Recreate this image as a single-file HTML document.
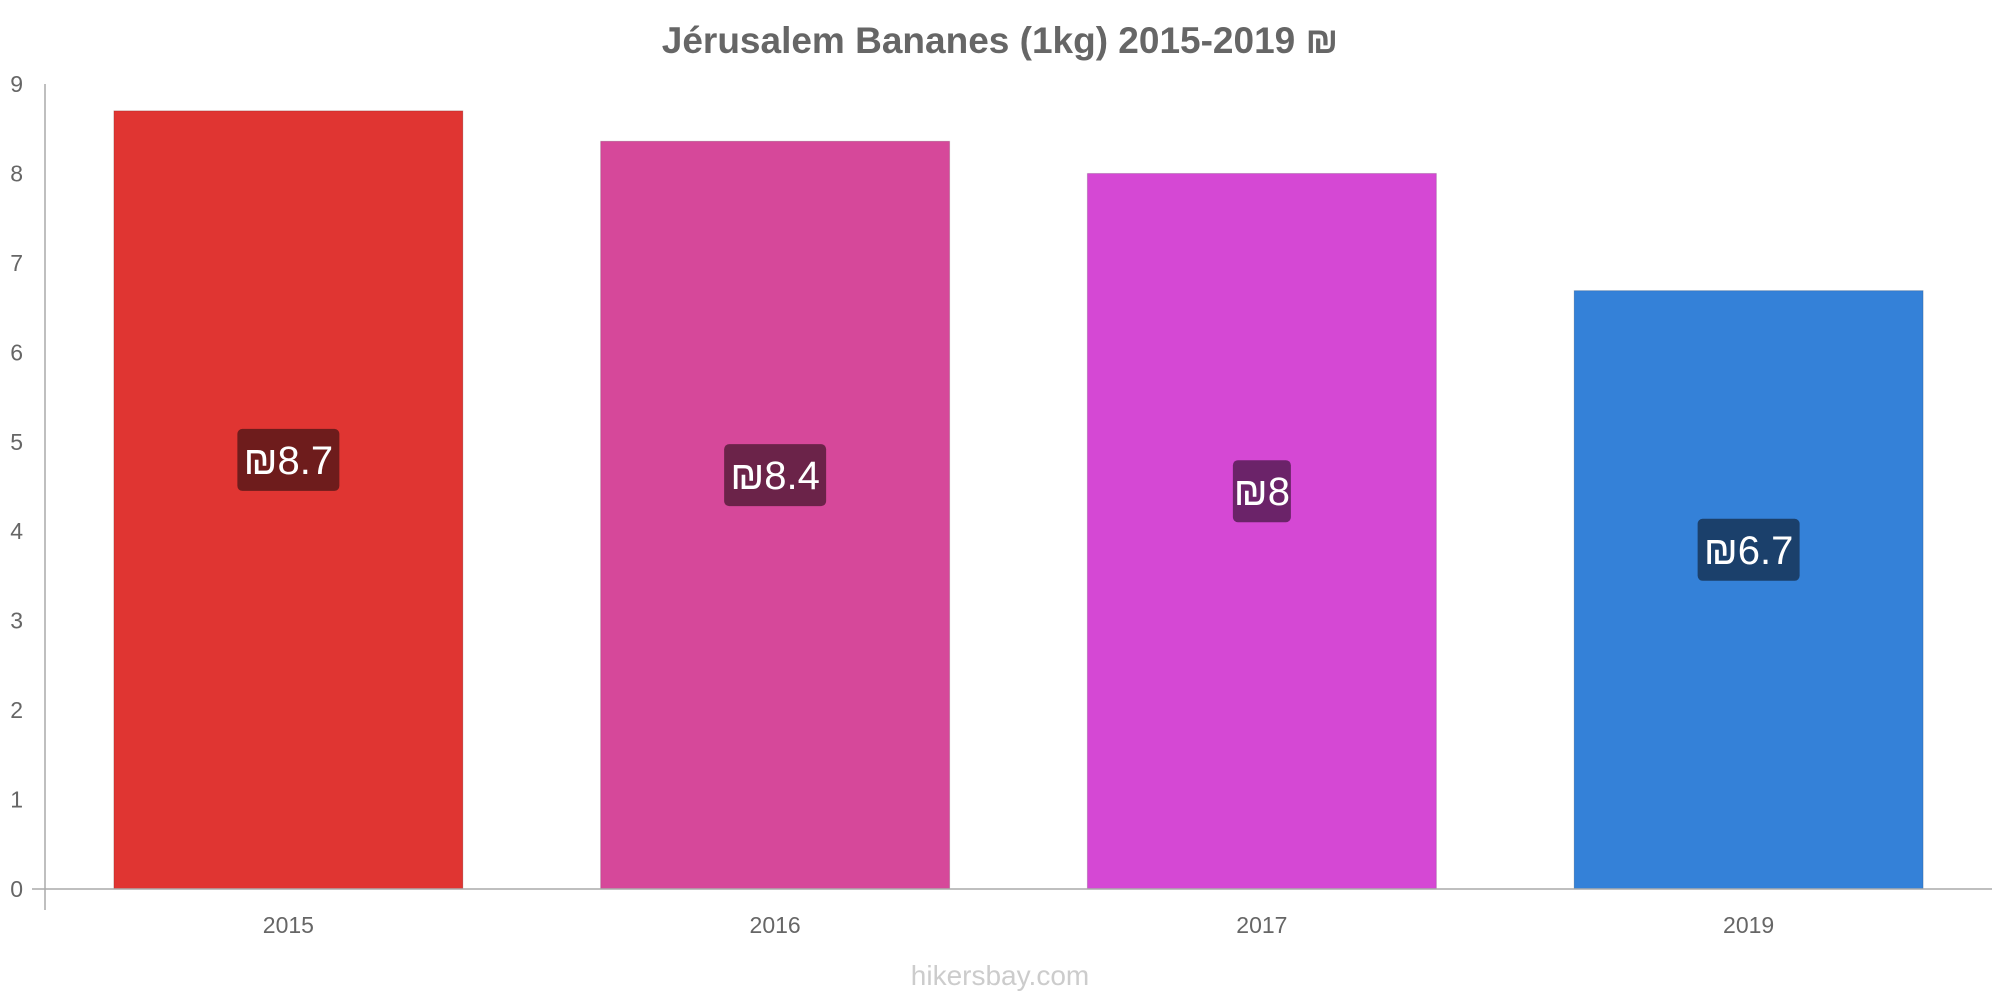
<!DOCTYPE html>
<html><head><meta charset="utf-8"><style>
body{margin:0;background:#fff;}
svg{display:block;font-family:"Liberation Sans",sans-serif;}
</style></head><body>
<svg id="chart" width="2000" height="1000">
<text x="1000" y="53" text-anchor="middle" font-size="37" font-weight="bold" fill="#666">Jérusalem Bananes (1kg) 2015-2019 ₪</text>
<g id="yaxis"></g>
<g id="bars"></g>
<g id="xaxis"></g>
<text x="1000" y="985" text-anchor="middle" font-size="28" fill="#ccc">hikersbay.com</text>
</svg>
<script>
const categories = ["2015","2016","2017","2019"];
const values = [8.7, 8.36, 8.0, 6.69];
const valueLabels = ["₪8.7","₪8.4","₪8","₪6.7"];
const yTicks = [0,1,2,3,4,5,6,7,8,9];
const colors = ["#e03532","#d6489a","#d548d4","#3481d8"];
const labelBg = ["#6e1c1c","#6b2349","#6b2369","#1b406b"];

const NS="http://www.w3.org/2000/svg";
const x0=45, x1=1992, y0=889, yTop=84, yMax=9;
const band=(x1-x0)/categories.length, barW=band*0.717;
const y=v=>y0-(v/yMax)*(y0-yTop);
function mk(t,a,p){const e=document.createElementNS(NS,t);for(const k in a)e.setAttribute(k,a[k]);p.appendChild(e);return e;}
const ya=document.getElementById('yaxis'), xa=document.getElementById('xaxis'), bg=document.getElementById('bars');
mk('line',{x1:x0,y1:yTop,x2:x0,y2:910,stroke:'#aaa','stroke-width':1.5},ya);
mk('line',{x1:32,y1:y0,x2:x1,y2:y0,stroke:'#aaa','stroke-width':1.5},xa);
yTicks.forEach(t=>{
  const tx=mk('text',{x:23,y:y(t)+8,'text-anchor':'end','font-size':23,fill:'#666'},ya);
  
  
  tx.textContent=t;
});
categories.forEach((c,i)=>{
  const cx=x0+band*(i+0.5);
  const r=mk('rect',{x:cx-barW/2,y:y(values[i]),width:barW,height:y0-y(values[i]),fill:colors[i],stroke:'rgba(0,0,0,0.15)','stroke-width':1},bg);
  
  
  const ly=(y(values[i])+y0)/2-40;
  const w=valueLabels[i].length*22+14;
  const b=mk('rect',{x:cx-w/2,y:ly-31,width:w,height:62,rx:5,fill:labelBg[i]},bg);
  
  
  const lt=mk('text',{x:cx,y:ly+14,'text-anchor':'middle','font-size':40,fill:'#fff'},bg);
  
  
  lt.textContent=valueLabels[i];
  const xt=mk('text',{x:cx,y:933,'text-anchor':'middle','font-size':23,fill:'#666'},xa);
  
  
  xt.textContent=c;
});
</script>
</body></html>
